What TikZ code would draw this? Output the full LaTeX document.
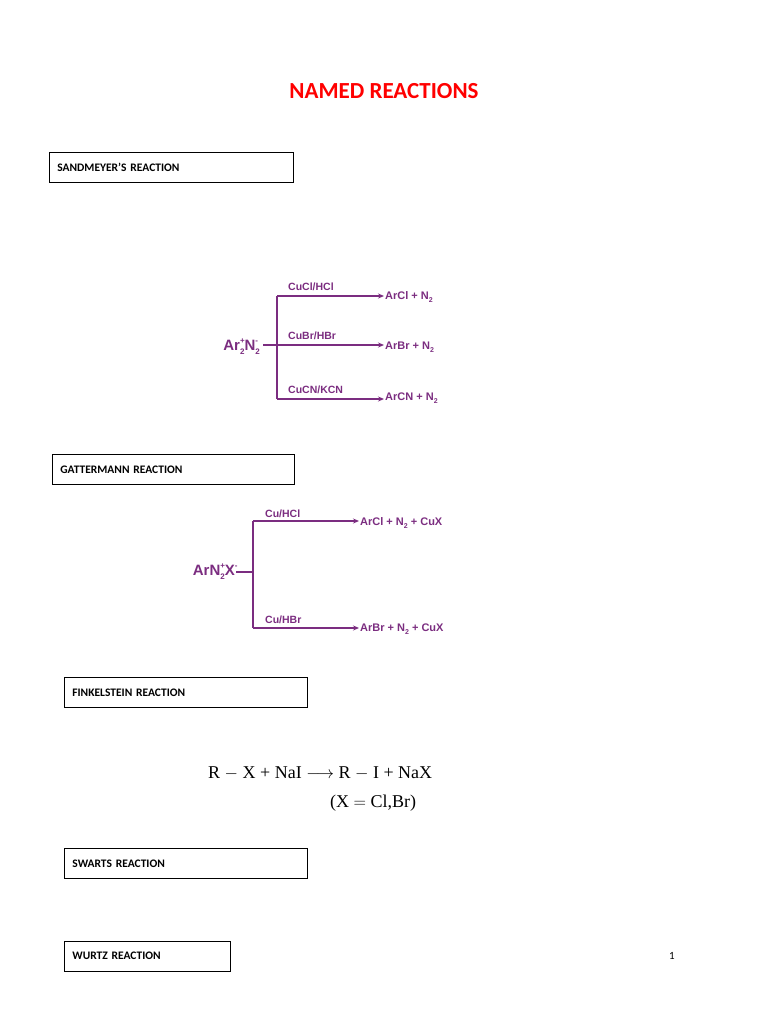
\documentclass[tikz,border=0pt]{standalone}
\usepackage{fontspec}
\setmainfont{Liberation Serif}
\newfontfamily\calfont{Carlito}
\newfontfamily\arialfont{Liberation Sans}
\usetikzlibrary{arrows.meta}
\definecolor{chem}{HTML}{7B2D80}
\newcommand{\ssup}[2]{\makebox[0pt][l]{\raisebox{7pt}{\fontsize{8}{8}\selectfont #1}}\raisebox{-4pt}{\fontsize{8}{8}\selectfont #2}}
\tikzset{
  hbox/.style={draw,line width=0.8pt,anchor=west,minimum height=30pt,inner xsep=8pt,font=\calfont\bfseries\fontsize{11.5}{13}\selectfont},
  chem/.style={text=chem,font=\arialfont\bfseries\fontsize{11}{13}\selectfont,inner sep=1pt},
  big/.style={text=chem,font=\arialfont\bfseries\fontsize{15}{17}\selectfont,inner sep=1pt},
  lab/.style={text=chem,font=\arialfont\bfseries\fontsize{10.5}{12}\selectfont,inner sep=1pt},
  rx/.style={draw=chem,line width=1.1pt},
  arr/.style={rx,-{Stealth[length=6pt,width=5pt]}},
}
\begin{document}
\begin{tikzpicture}[x=1pt,y=-1pt]
\useasboundingbox (0,0) rectangle (768,1024);
\node[text=red,font=\calfont\bfseries\fontsize{23}{26}\selectfont] (title) at (384,91) {NAMED REACTIONS};
\node[hbox,minimum width=244pt,text width=228pt,align=left] (b1) at (49,167) {SANDMEYER’S REACTION};
\node[hbox,minimum width=242pt,text width=226pt,align=left] (b2) at (52,469.5) {GATTERMANN REACTION};
\node[hbox,minimum width=243pt,text width=227pt,align=left] (b3) at (64,692.5) {FINKELSTEIN REACTION};
\node[hbox,minimum width=243pt,text width=227pt,align=left] (b4) at (64,863.5) {SWARTS REACTION};
\node[hbox,minimum width=166pt,text width=150pt,align=left] (b5) at (64,956) {WURTZ REACTION};
\node[font=\calfont\fontsize{11}{13}\selectfont] (pg) at (672,956) {1};

% Sandmeyer
\node[big,anchor=east] (s0) at (261,347) {Ar\ssup{+}{2}N\ssup{-}{2}};
\coordinate (sv1) at (277,296);
\coordinate (sv3) at (277,399);
\node[chem,anchor=west] (p1) at (384,297) {ArCl + N\raisebox{-3pt}{\fontsize{7}{7}\selectfont 2}};
\node[chem,anchor=west] (p2) at (384,347) {ArBr + N\raisebox{-3pt}{\fontsize{7}{7}\selectfont 2}};
\node[chem,anchor=west] (p3) at (384,398) {ArCN + N\raisebox{-3pt}{\fontsize{7}{7}\selectfont 2}};
\draw[rx] (sv1) -- (sv3);
\draw[arr] (s0.east) ++(2,-2) -- (p2.west |- 0,345);
\draw[arr] (sv1) -- (sv1 -| p1.west);
\draw[arr] (sv3) -- (sv3 -| p3.west);
\node[lab,anchor=west] (l1) at (287,287) {CuCl/HCl};
\node[lab,anchor=west] (l2) at (287,336) {CuBr/HBr};
\node[lab,anchor=west] (l3) at (287,390) {CuCN/KCN};

% Gattermann
\node[big,anchor=east] (g0) at (236,572) {ArN\ssup{+}{2}X\ssup{-}{}};
\coordinate (gj) at (253,572);
\coordinate (gt) at (253,521);
\coordinate (gb) at (253,628);
\node[chem,anchor=west] (q1) at (359,523) {ArCl + N\raisebox{-3pt}{\fontsize{7}{7}\selectfont 2} + CuX};
\node[chem,anchor=west] (q2) at (359,629) {ArBr + N\raisebox{-3pt}{\fontsize{7}{7}\selectfont 2} + CuX};
\draw[rx] (g0.east) -- (gj);
\draw[rx] (gt) -- (gb);
\draw[arr] (gt) -- (gt -| q1.west);
\draw[arr] (gb) -- (gb -| q2.west);
\node[lab,anchor=west] (m1) at (264,514) {Cu/HCl};
\node[lab,anchor=west] (m2) at (264,620) {Cu/HBr};

% Finkelstein
\node[font=\fontsize{18}{20}\selectfont,anchor=west,inner sep=0] (f1) at (208,773) {R $-$ X + NaI $\longrightarrow$ R $-$ I + NaX};
\node[font=\fontsize{18}{20}\selectfont,anchor=west,inner sep=0] (f2) at (330,803) {(X $=$ Cl,Br)};
\end{tikzpicture}
\end{document}
